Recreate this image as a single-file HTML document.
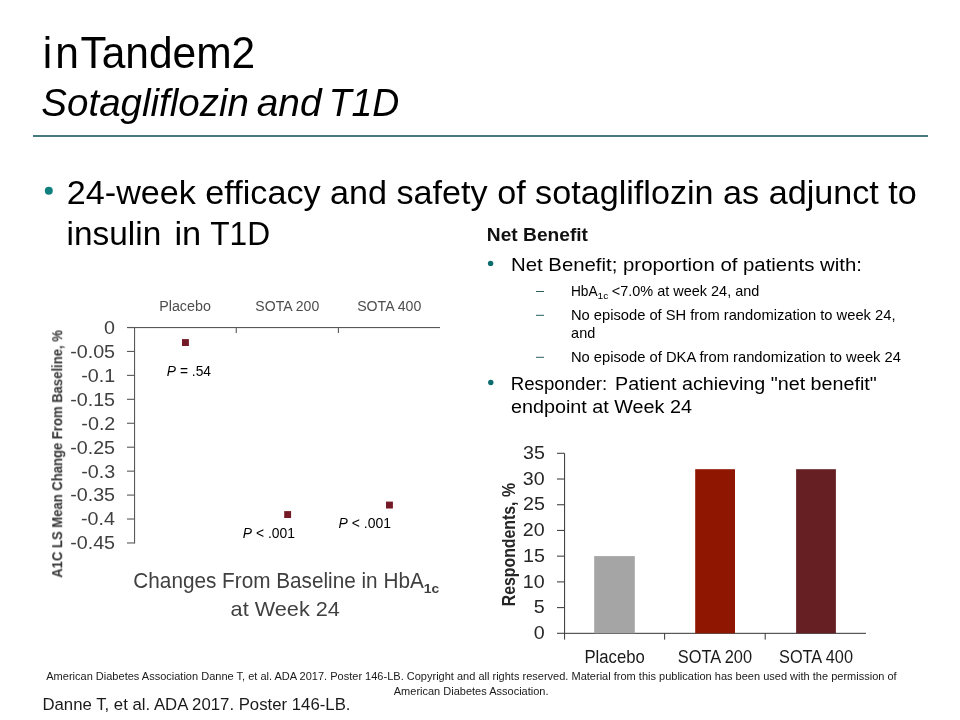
<!DOCTYPE html>
<html><head><meta charset="utf-8"><style>
html,body{margin:0;padding:0;background:#fff;}
svg{display:block;font-family:"Liberation Sans", sans-serif;}
.g{filter:grayscale(1);}
</style></head><body>
<svg width="960" height="720" viewBox="0 0 960 720">
<rect width="960" height="720" fill="#fff"/>
<rect x="33" y="135" width="895" height="2" fill="#477a7f"/>
<circle cx="48.8" cy="190.7" r="4.0" fill="#10807f"/>
<circle cx="490.6" cy="263.4" r="2.7" fill="#0d6d6e"/>
<rect x="536" y="291.0" width="8" height="1" fill="#2a6160"/>
<rect x="536" y="314.8" width="8" height="1" fill="#2a6160"/>
<rect x="536" y="356.8" width="8" height="1" fill="#2a6160"/>
<circle cx="490.8" cy="382.5" r="2.7" fill="#0d6d6e"/>
<rect x="127.5" y="327" width="312.5" height="1.1" fill="#595959"/>
<rect x="134" y="327" width="1.1" height="216.5" fill="#595959"/>
<rect x="127" y="326.95" width="7.5" height="1.1" fill="#595959"/>
<rect x="127" y="350.89" width="7.5" height="1.1" fill="#595959"/>
<rect x="127" y="374.83" width="7.5" height="1.1" fill="#595959"/>
<rect x="127" y="398.77" width="7.5" height="1.1" fill="#595959"/>
<rect x="127" y="422.71" width="7.5" height="1.1" fill="#595959"/>
<rect x="127" y="446.65" width="7.5" height="1.1" fill="#595959"/>
<rect x="127" y="470.59" width="7.5" height="1.1" fill="#595959"/>
<rect x="127" y="494.53000000000003" width="7.5" height="1.1" fill="#595959"/>
<rect x="127" y="518.47" width="7.5" height="1.1" fill="#595959"/>
<rect x="127" y="542.4100000000001" width="7.5" height="1.1" fill="#595959"/>
<rect x="235.7" y="327" width="1.1" height="6" fill="#595959"/>
<rect x="337.84999999999997" y="327" width="1.1" height="6" fill="#595959"/>
<rect x="182" y="339.1" width="6.9" height="6.9" fill="#741a26"/>
<rect x="284.2" y="511.1" width="6.9" height="6.9" fill="#741a26"/>
<rect x="386" y="501.6" width="6.9" height="6.9" fill="#741a26"/>
<rect x="564" y="453.3" width="1.1" height="186.3" fill="#454545"/>
<rect x="564" y="632.8" width="302" height="1.1" fill="#454545"/>
<rect x="557" y="632.75" width="7.5" height="1.1" fill="#454545"/>
<rect x="557" y="607.0360000000001" width="7.5" height="1.1" fill="#454545"/>
<rect x="557" y="581.322" width="7.5" height="1.1" fill="#454545"/>
<rect x="557" y="555.608" width="7.5" height="1.1" fill="#454545"/>
<rect x="557" y="529.894" width="7.5" height="1.1" fill="#454545"/>
<rect x="557" y="504.17999999999995" width="7.5" height="1.1" fill="#454545"/>
<rect x="557" y="478.46599999999995" width="7.5" height="1.1" fill="#454545"/>
<rect x="557" y="452.75199999999995" width="7.5" height="1.1" fill="#454545"/>
<rect x="664.0500000000001" y="633" width="1.1" height="6.6" fill="#454545"/>
<rect x="764.6500000000001" y="633" width="1.1" height="6.6" fill="#454545"/>
<rect x="594.2" y="556.1" width="40.6" height="77.19999999999993" fill="#a5a5a5"/>
<rect x="695.2" y="469.2" width="39.8" height="164.09999999999997" fill="#8f1600"/>
<rect x="796.1" y="469.2" width="39.8" height="164.09999999999997" fill="#662024"/>
<g class="g">
<text x="80.40" y="67.60" font-size="43.91" fill="#000" textLength="174.88" lengthAdjust="spacingAndGlyphs">Tandem2</text>
<text x="42.84" y="67.60" font-size="43.91" fill="#000" textLength="9.45" lengthAdjust="spacingAndGlyphs">i</text>
<text x="55.34" y="67.60" font-size="43.91" fill="#000" textLength="23.64" lengthAdjust="spacingAndGlyphs">n</text>
<text x="41.34" y="115.50" font-size="39.13" font-style="italic" fill="#000" textLength="207.68" lengthAdjust="spacingAndGlyphs">Sotagliflozin</text>
<text x="256.72" y="115.50" font-size="39.13" font-style="italic" fill="#000" textLength="64.85" lengthAdjust="spacingAndGlyphs">and</text>
<text x="328.63" y="115.50" font-size="39.13" font-style="italic" fill="#000" textLength="70.65" lengthAdjust="spacingAndGlyphs">T1D</text>
<text x="66.79" y="203.70" font-size="33.29" fill="#000" textLength="849.98" lengthAdjust="spacingAndGlyphs">24-week efficacy and safety of sotagliflozin as adjunct to</text>
<text x="66.58" y="244.70" font-size="33.99" fill="#000" textLength="94.69" lengthAdjust="spacingAndGlyphs">insulin</text>
<text x="174.46" y="244.70" font-size="33.99" fill="#000" textLength="26.79" lengthAdjust="spacingAndGlyphs">in</text>
<text x="210.17" y="244.70" font-size="33.99" fill="#000" textLength="59.89" lengthAdjust="spacingAndGlyphs">T1D</text>
<text x="486.85" y="240.60" font-size="17.54" font-weight="bold" fill="#111" textLength="101.15" lengthAdjust="spacingAndGlyphs">Net Benefit</text>
<text x="510.97" y="270.75" font-size="18.48" fill="#000" textLength="350.91" lengthAdjust="spacingAndGlyphs">Net Benefit; proportion of patients with:</text>
<text x="570.90" y="295.80" font-size="14.20" fill="#000" textLength="26.70" lengthAdjust="spacingAndGlyphs">HbA</text>
<text x="597.64" y="298.75" font-size="8.57" fill="#000" textLength="10.73" lengthAdjust="spacingAndGlyphs">1c</text>
<text x="611.78" y="295.80" font-size="14.20" fill="#000" textLength="147.54" lengthAdjust="spacingAndGlyphs">&lt;7.0% at week 24, and</text>
<text x="570.92" y="320.00" font-size="14.20" fill="#000" textLength="324.56" lengthAdjust="spacingAndGlyphs">No episode of SH from randomization to week 24,</text>
<text x="571.12" y="337.70" font-size="14.34" fill="#000" textLength="24.17" lengthAdjust="spacingAndGlyphs">and</text>
<text x="570.92" y="362.00" font-size="14.20" fill="#000" textLength="330.04" lengthAdjust="spacingAndGlyphs">No episode of DKA from randomization to week 24</text>
<text x="510.81" y="389.70" font-size="17.68" fill="#000" textLength="96.36" lengthAdjust="spacingAndGlyphs">Responder:</text>
<text x="615.12" y="389.70" font-size="17.68" fill="#000" textLength="261.66" lengthAdjust="spacingAndGlyphs">Patient achieving &quot;net benefit&quot;</text>
<text x="510.91" y="412.60" font-size="17.68" fill="#000" textLength="181.08" lengthAdjust="spacingAndGlyphs">endpoint at Week 24</text>
<text x="159.16" y="310.80" font-size="14.49" fill="#4d4d4d" textLength="51.70" lengthAdjust="spacingAndGlyphs">Placebo</text>
<text x="255.37" y="310.80" font-size="14.49" fill="#4d4d4d" textLength="63.87" lengthAdjust="spacingAndGlyphs">SOTA 200</text>
<text x="357.16" y="310.80" font-size="14.49" fill="#4d4d4d" textLength="64.13" lengthAdjust="spacingAndGlyphs">SOTA 400</text>
<text x="104.05" y="333.90" font-size="18.43" fill="#404040" textLength="10.96" lengthAdjust="spacingAndGlyphs">0</text>
<text x="70.16" y="357.84" font-size="18.43" fill="#404040" textLength="44.91" lengthAdjust="spacingAndGlyphs">-0.05</text>
<text x="81.30" y="381.78" font-size="18.43" fill="#404040" textLength="33.95" lengthAdjust="spacingAndGlyphs">-0.1</text>
<text x="70.16" y="405.72" font-size="18.43" fill="#404040" textLength="44.91" lengthAdjust="spacingAndGlyphs">-0.15</text>
<text x="81.39" y="429.66" font-size="18.43" fill="#404040" textLength="33.95" lengthAdjust="spacingAndGlyphs">-0.2</text>
<text x="70.16" y="453.60" font-size="18.43" fill="#404040" textLength="44.91" lengthAdjust="spacingAndGlyphs">-0.25</text>
<text x="81.20" y="477.54" font-size="18.43" fill="#404040" textLength="33.95" lengthAdjust="spacingAndGlyphs">-0.3</text>
<text x="70.16" y="501.48" font-size="18.43" fill="#404040" textLength="44.91" lengthAdjust="spacingAndGlyphs">-0.35</text>
<text x="81.00" y="525.42" font-size="18.43" fill="#404040" textLength="33.95" lengthAdjust="spacingAndGlyphs">-0.4</text>
<text x="70.16" y="549.36" font-size="18.43" fill="#404040" textLength="44.91" lengthAdjust="spacingAndGlyphs">-0.45</text>
<text x="166.89" y="375.80" font-size="13.77" fill="#000" textLength="44.11" lengthAdjust="spacingAndGlyphs"><tspan font-style="italic">P</tspan> = .54</text>
<text x="242.89" y="537.80" font-size="13.77" fill="#000" textLength="52.04" lengthAdjust="spacingAndGlyphs"><tspan font-style="italic">P</tspan> &lt; .001</text>
<text x="338.58" y="527.50" font-size="13.77" fill="#000" textLength="52.35" lengthAdjust="spacingAndGlyphs"><tspan font-style="italic">P</tspan> &lt; .001</text>
<g transform="translate(62.2,577.5) rotate(-90)"><text x="-0.33" y="0" font-size="14.49" font-weight="bold" fill="#333333" textLength="247.64" lengthAdjust="spacingAndGlyphs">A1C LS Mean Change From Baseline, %</text></g>
<text x="133.36" y="587.75" font-size="21.74" fill="#404040" textLength="290.38" lengthAdjust="spacingAndGlyphs">Changes From Baseline in HbA</text>
<text x="423.66" y="592.80" font-size="13.57" font-weight="bold" fill="#404040" textLength="15.49" lengthAdjust="spacingAndGlyphs">1c</text>
<text x="230.63" y="616.40" font-size="21.01" fill="#404040" textLength="109.22" lengthAdjust="spacingAndGlyphs">at Week 24</text>
<text x="533.78" y="639.00" font-size="18.57" fill="#262626" textLength="10.93" lengthAdjust="spacingAndGlyphs">0</text>
<text x="533.88" y="613.29" font-size="18.57" fill="#262626" textLength="10.93" lengthAdjust="spacingAndGlyphs">5</text>
<text x="522.87" y="587.57" font-size="18.57" fill="#262626" textLength="21.87" lengthAdjust="spacingAndGlyphs">10</text>
<text x="522.96" y="561.86" font-size="18.57" fill="#262626" textLength="21.87" lengthAdjust="spacingAndGlyphs">15</text>
<text x="522.87" y="536.14" font-size="18.57" fill="#262626" textLength="21.87" lengthAdjust="spacingAndGlyphs">20</text>
<text x="522.96" y="510.43" font-size="18.57" fill="#262626" textLength="21.87" lengthAdjust="spacingAndGlyphs">25</text>
<text x="522.87" y="484.72" font-size="18.57" fill="#262626" textLength="21.87" lengthAdjust="spacingAndGlyphs">30</text>
<text x="522.96" y="459.00" font-size="18.57" fill="#262626" textLength="21.87" lengthAdjust="spacingAndGlyphs">35</text>
<g transform="translate(514.7,605.3) rotate(-90)"><text x="-1.03" y="0" font-size="17.68" font-weight="bold" fill="#262626" textLength="123.31" lengthAdjust="spacingAndGlyphs">Respondents, %</text></g>
<text x="584.46" y="663.30" font-size="17.83" fill="#1a1a1a" textLength="60.39" lengthAdjust="spacingAndGlyphs">Placebo</text>
<text x="677.86" y="663.30" font-size="17.83" fill="#1a1a1a" textLength="74.20" lengthAdjust="spacingAndGlyphs">SOTA 200</text>
<text x="779.07" y="663.30" font-size="17.83" fill="#1a1a1a" textLength="73.90" lengthAdjust="spacingAndGlyphs">SOTA 400</text>
<text x="46.25" y="680.00" font-size="11.59" fill="#1a1a1a" textLength="850.41" lengthAdjust="spacingAndGlyphs">American Diabetes Association Danne T, et al. ADA 2017. Poster 146-LB. Copyright and all rights reserved. Material from this publication has been used with the permission of</text>
<text x="393.75" y="694.70" font-size="11.59" fill="#1a1a1a" textLength="154.77" lengthAdjust="spacingAndGlyphs">American Diabetes Association.</text>
<text x="42.43" y="709.70" font-size="16.52" fill="#1a1a1a" textLength="308.07" lengthAdjust="spacingAndGlyphs">Danne T, et al.  ADA 2017. Poster 146-LB.</text>
</g>
</svg>
</body></html>
